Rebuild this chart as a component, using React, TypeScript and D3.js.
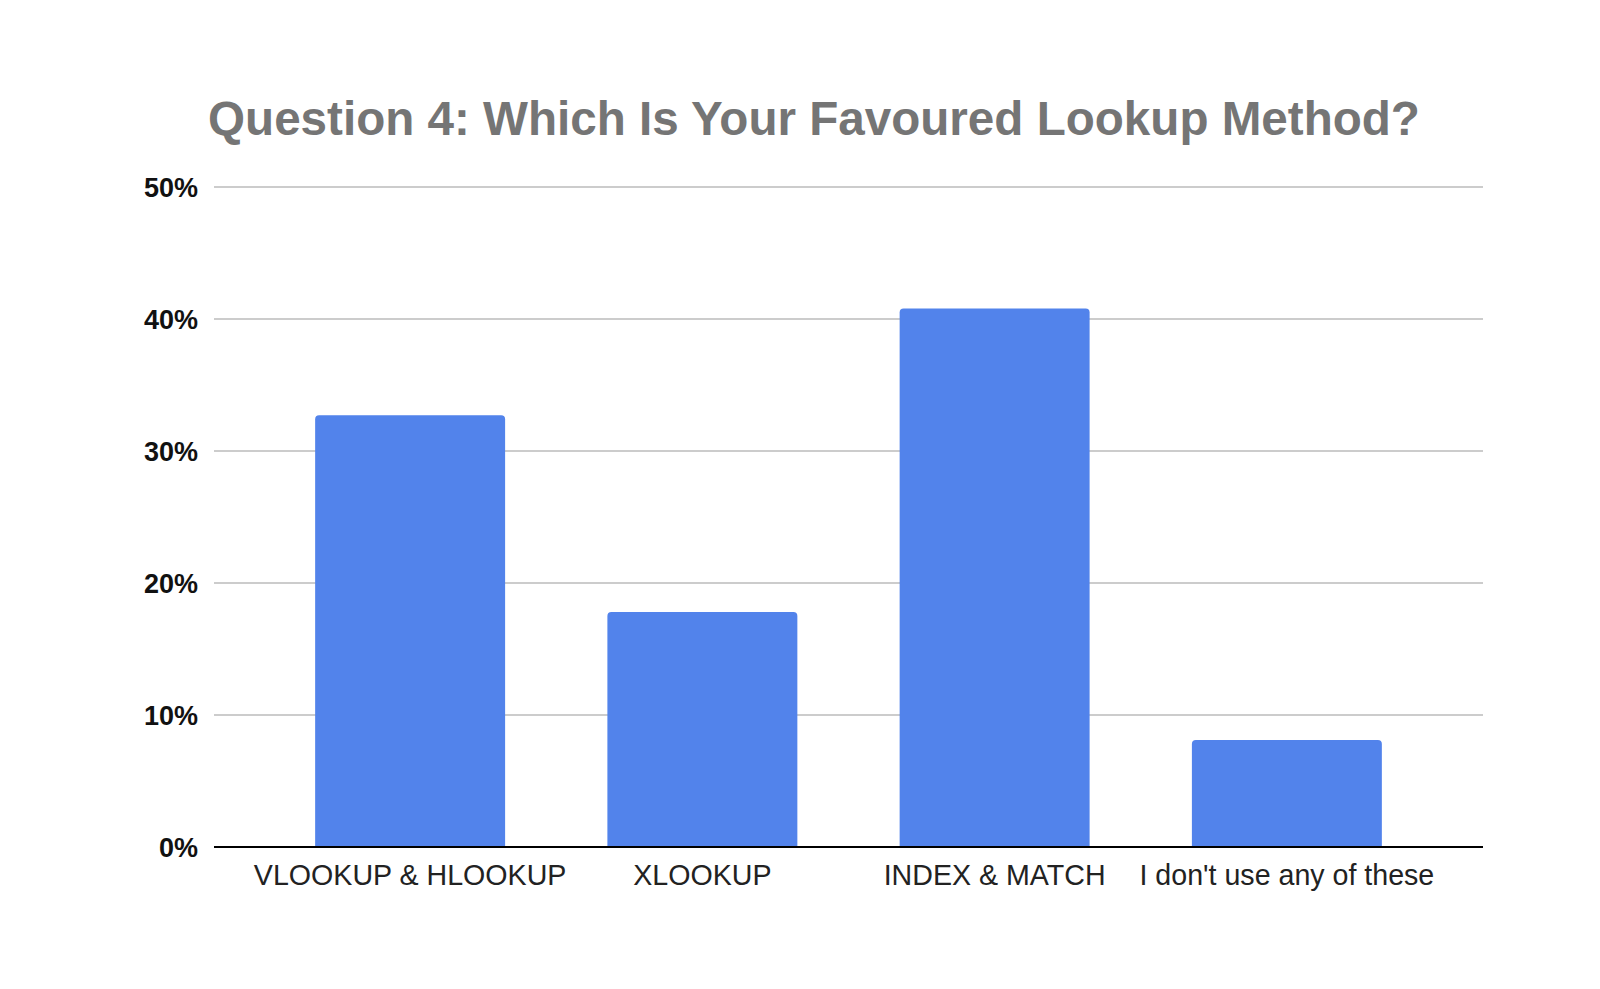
import React, { useRef, useEffect } from 'react';
import * as d3 from 'd3';

const categories = ['VLOOKUP & HLOOKUP', 'XLOOKUP', 'INDEX & MATCH', "I don't use any of these"];
const shares = [0.327, 0.178, 0.408, 0.081];
const yTicks = [0, 0.1, 0.2, 0.3, 0.4, 0.5];
const title = 'Question 4: Which Is Your Favoured Lookup Method?';

const width = 1600;
const height = 989;

const App: React.FC = () => {
  const svgRef = useRef<SVGSVGElement>(null);

  useEffect(() => {
    if (!svgRef.current) return;
    const svg = d3.select(svgRef.current);
    svg.selectAll('*').remove();

    const plot = { left: 214, right: 1483, top: 187, bottom: 847 };

    const x = d3.scaleBand<string>()
      .domain(categories)
      .range([264, 1433])
      .paddingInner(0.35)
      .paddingOuter(0.175);

    const y = d3.scaleLinear()
      .domain([0, 0.5])
      .range([plot.bottom, plot.top]);

    svg.append('rect')
      .attr('width', width)
      .attr('height', height)
      .attr('fill', '#ffffff');

    // title
    svg.append('text')
      .attr('x', 814)
      .attr('y', 135)
      .attr('text-anchor', 'middle')
      .attr('font-family', 'Liberation Sans, Arial, sans-serif')
      .attr('font-weight', 'bold')
      .attr('font-size', 47.6)
      .attr('fill', '#757575')
      .text(title);

    // gridlines
    svg.append('g')
      .selectAll('line')
      .data(yTicks.filter(t => t > 0))
      .enter()
      .append('line')
      .attr('x1', plot.left)
      .attr('x2', plot.right)
      .attr('y1', d => y(d))
      .attr('y2', d => y(d))
      .attr('stroke', '#cccccc')
      .attr('stroke-width', 2);

    // y tick labels
    svg.append('g')
      .selectAll('text')
      .data(yTicks)
      .enter()
      .append('text')
      .attr('x', 198)
      .attr('y', d => y(d) + 10)
      .attr('text-anchor', 'end')
      .attr('font-family', 'Liberation Sans, Arial, sans-serif')
      .attr('font-weight', 'bold')
      .attr('font-size', 27)
      .attr('fill', '#111111')
      .text(d => d3.format('.0%')(d));

    // bars with rounded tops
    const r = 4;
    svg.append('g')
      .selectAll('path')
      .data(categories.map((c, i) => ({ c, v: shares[i] })))
      .enter()
      .append('path')
      .attr('d', d => {
        const x0 = x(d.c)!;
        const x1 = x0 + x.bandwidth();
        const y0 = y(d.v);
        const yb = y(0);
        return `M${x0},${yb}V${y0 + r}Q${x0},${y0} ${x0 + r},${y0}H${x1 - r}Q${x1},${y0} ${x1},${y0 + r}V${yb}Z`;
      })
      .attr('fill', '#5283eb');

    // baseline
    svg.append('line')
      .attr('x1', plot.left)
      .attr('x2', plot.right)
      .attr('y1', y(0))
      .attr('y2', y(0))
      .attr('stroke', '#000000')
      .attr('stroke-width', 2);

    // category labels
    svg.append('g')
      .selectAll('text')
      .data(categories)
      .enter()
      .append('text')
      .attr('x', d => x(d)! + x.bandwidth() / 2)
      .attr('y', 885)
      .attr('text-anchor', 'middle')
      .attr('font-family', 'Liberation Sans, Arial, sans-serif')
      .attr('font-size', 28.6)
      .attr('fill', '#222222')
      .text(d => d);
  }, []);

  return (
    <svg
      ref={svgRef}
      width={width}
      height={height}
      style={{ position: 'absolute', left: 0, top: 0, display: 'block' }}
    />
  );
};

export default App;
